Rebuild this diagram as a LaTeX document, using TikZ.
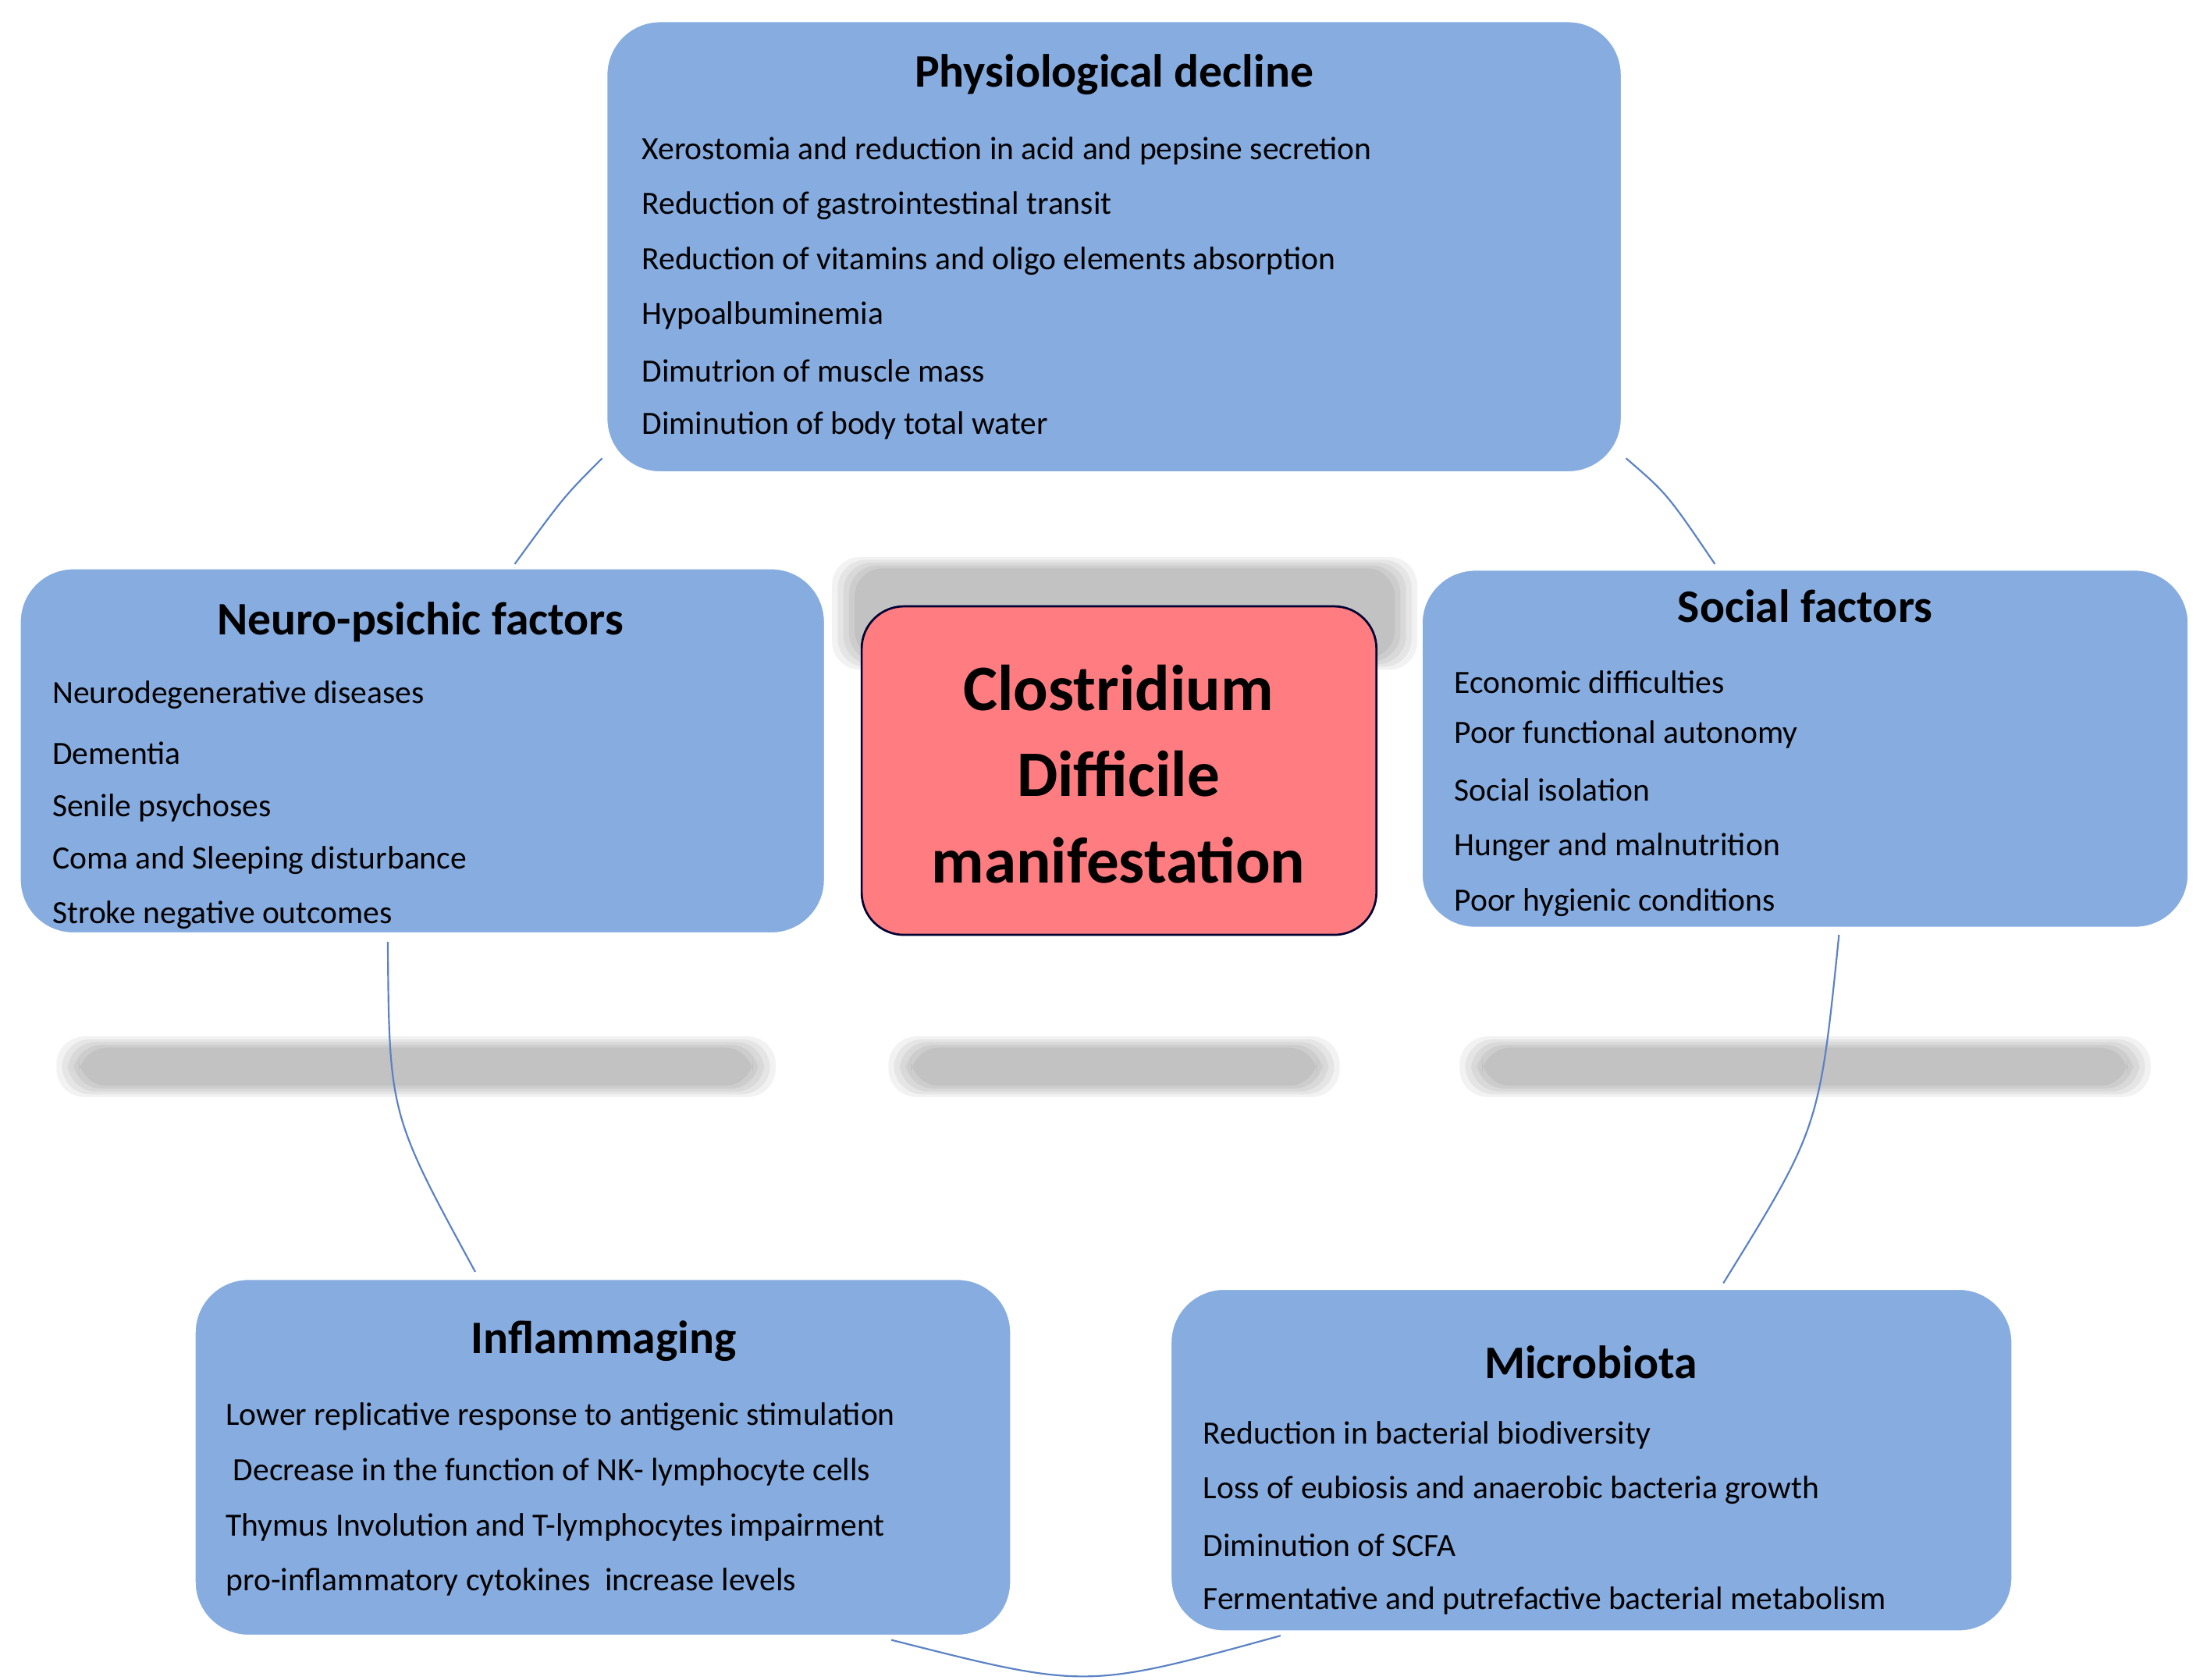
\documentclass[tikz,border=0pt]{standalone}
\usepackage{fontspec}
\setmainfont{Carlito}
\begin{document}
\begin{tikzpicture}[x=1pt,y=-1pt,
  box/.style={fill=boxblue,draw=white,line width=1.5pt,rounded corners=38pt},
  ttl/.style={font=\fontsize{33}{38}\selectfont\bfseries,anchor=center},
  ln/.style={font=\fontsize{23}{26}\selectfont,anchor=west,inner sep=0pt},
  arc/.style={draw=linkblue,line width=1.2pt},
  sh/.style={fill=black,opacity=0.05,rounded corners=20pt}]
\definecolor{boxblue}{HTML}{86ACE0}
\definecolor{linkblue}{HTML}{5B82C4}
\definecolor{cred}{HTML}{FF7C80}
\useasboundingbox (0,0) rectangle (1560,1191);
\fill[white] (0,0) rectangle (1560,1191);
% shadows
\foreach \d in {0,4,8,12,16}{
 \fill[sh] (40+\d,735+\d/2) rectangle (550-\d,778-\d/2);
 \fill[sh] (630+\d,735+\d/2) rectangle (950-\d,778-\d/2);
 \fill[sh] (1035+\d,735+\d/2) rectangle (1525-\d,778-\d/2);
 \fill[sh] (590+\d,395+\d/2) rectangle (1005-\d,475-\d/2);
}
% arcs
\coordinate (a1) at (427,325); \coordinate (a2) at (365,400);
\coordinate (b1) at (1153,325); \coordinate (b2) at (1216,400);
\coordinate (c1) at (275,668); \coordinate (c2) at (337,902);
\coordinate (d1) at (1304,663); \coordinate (d2) at (1222,910);
\coordinate (e1) at (632,1163); \coordinate (e2) at (908,1160);
\draw[arc] (a1) .. controls (400,352) .. (a2);
\draw[arc] (b1) .. controls (1182,350) .. (b2);
\draw[arc] (c1) .. controls (276,790) .. (c2);
\draw[arc] (d1) .. controls (1290,800) .. (d2);
\draw[arc] (e1) .. controls (770,1198) .. (e2);
% boxes
\draw[box] (430,15) rectangle (1150,335);
\node[ttl] (pt) at (790,53) {Physiological decline};
\foreach \t [count=\i] in {Xerostomia and reduction in acid and pepsine secretion,Reduction of gastrointestinal transit,Reduction of vitamins and oligo elements absorption,Hypoalbuminemia,Dimutrion of muscle mass,Diminution of body total water}
 \node[ln] (p\i) at (455,68+39*\i) {\t};

\draw[box] (14,403) rectangle (585,662);
\node[ttl] (nt) at (298,441) {Neuro-psichic factors};
\foreach \t/\y [count=\i] in {Neurodegenerative diseases/493,Dementia/534,Senile psychoses/573,Coma and Sleeping disturbance/610,Stroke negative outcomes/649}
 \node[ln] (n\i) at (37,\y) {\t};

\draw[fill=cred,draw=black!80!blue,line width=1.5pt,rounded corners=30pt] (611,430) rectangle (976,663);
\node[font=\fontsize{46}{61}\selectfont\bfseries,align=center] (cd) at (793,549) {Clostridium\\Difficile\\manifestation};

\draw[box] (1008,404) rectangle (1552,658);
\node[ttl] (st) at (1280,430) {Social factors};
\foreach \t/\y [count=\i] in {Economic difficulties/484,Poor functional autonomy/521,Social isolation/560,Hunger and malnutrition/601,Poor hygienic conditions/640}
 \node[ln] (s\i) at (1031,\y) {\t};

\draw[box] (138,907) rectangle (717,1160);
\node[ttl] (it) at (428,951) {Inflammaging};
\foreach \t/\y [count=\i] in {Lower replicative response to antigenic stimulation/1005,{\ Decrease in the function of NK- lymphocyte cells}/1044,Thymus Involution and T-lymphocytes impairment/1083,pro-inflammatory cytokines\ \ increase levels/1122}
 \node[ln] (i\i) at (160,\y) {\t};

\draw[box] (830,914) rectangle (1427,1157);
\node[ttl] (mt) at (1128,966) {Microbiota};
\foreach \t/\y [count=\i] in {Reduction in bacterial biodiversity/1018,Loss of eubiosis and anaerobic bacteria growth/1057,Diminution of SCFA/1096,Fermentative and putrefactive bacterial metabolism/1135}
 \node[ln] (m\i) at (853,\y) {\t};
\end{tikzpicture}
\end{document}
